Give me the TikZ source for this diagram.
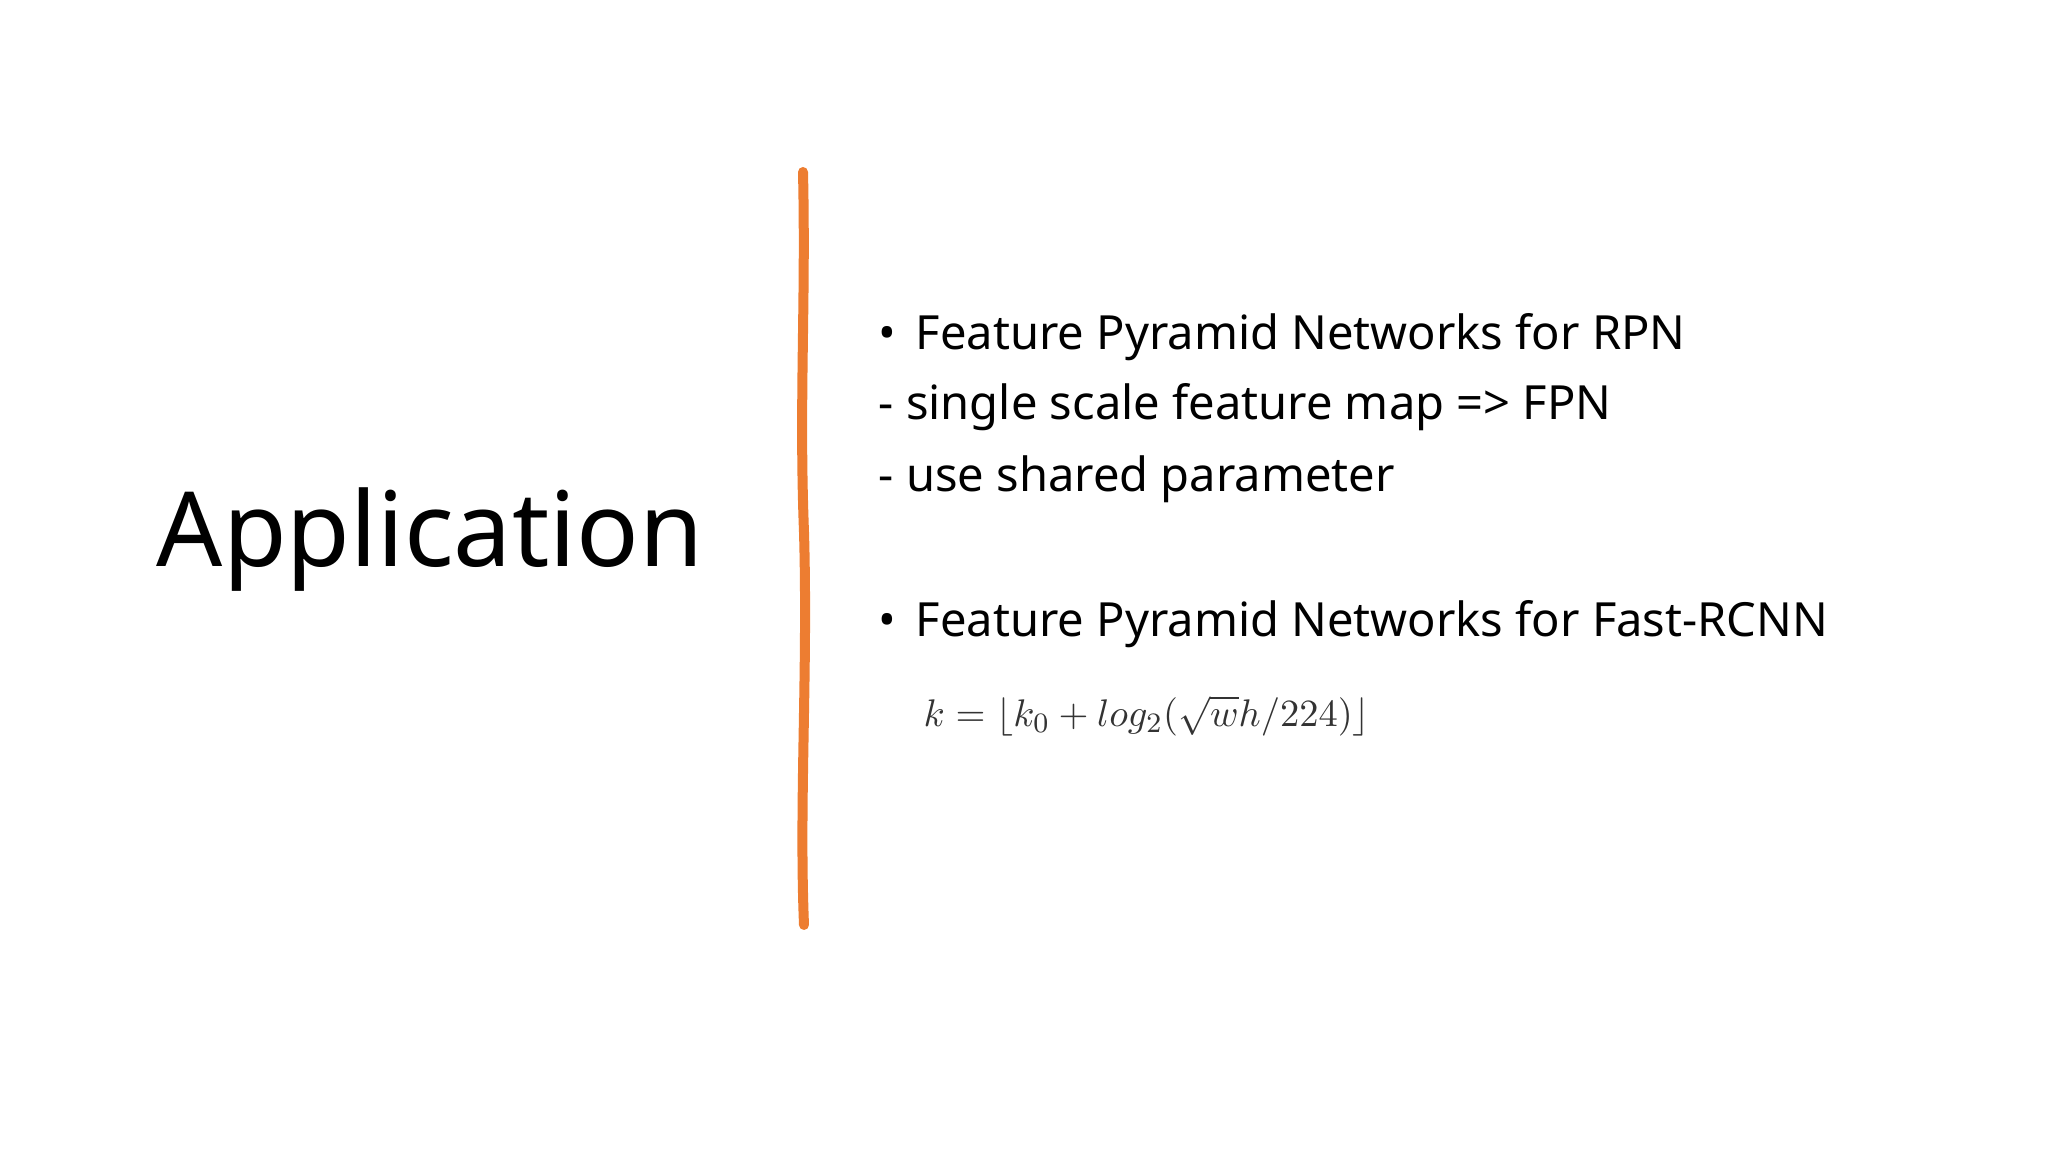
\documentclass[tikz,border=0pt]{standalone}
\usepackage{fontspec}
\setmainfont{Noto Sans}
\definecolor{orng}{RGB}{237,125,49}
\begin{document}
\begin{tikzpicture}[x=1cm,y=1cm,
  item/.style={anchor=base west,inner sep=0pt,font=\fontsize{13.4}{16}\selectfont}]
\useasboundingbox (0,0) rectangle (20.48,11.52);
\node[anchor=center,inner sep=0pt,font=\fontsize{29.5}{34}\selectfont] (title) at (4.30,6.12) {Application};
\draw[orng,line width=0.1cm,line cap=round] (8.03,9.80) .. controls (8.06,8.5) and (7.99,7.5) .. (8.04,6.2) .. controls (8.08,4.8) and (7.99,3.5) .. (8.04,2.27);
\node[item] (b1) at (8.78,8.02) {•};
\node[item] (t1) at (9.15,8.02) {Feature Pyramid Networks for RPN};
\node[item] (t2) at (8.78,7.32) {- single scale feature map => FPN};
\node[item] (t3) at (8.78,6.60) {- use shared parameter};
\node[item] (b2) at (8.78,5.15) {•};
\node[item] (t4) at (9.15,5.15) {Feature Pyramid Networks for Fast-RCNN};
\node[anchor=west,inner sep=0pt,text=black!80,font=\fontsize{11}{13}\selectfont] (f) at (9.23,4.36) {$k=\lfloor k_0+log_2(\sqrt{w}h/224)\rfloor$};
\end{tikzpicture}
\end{document}
